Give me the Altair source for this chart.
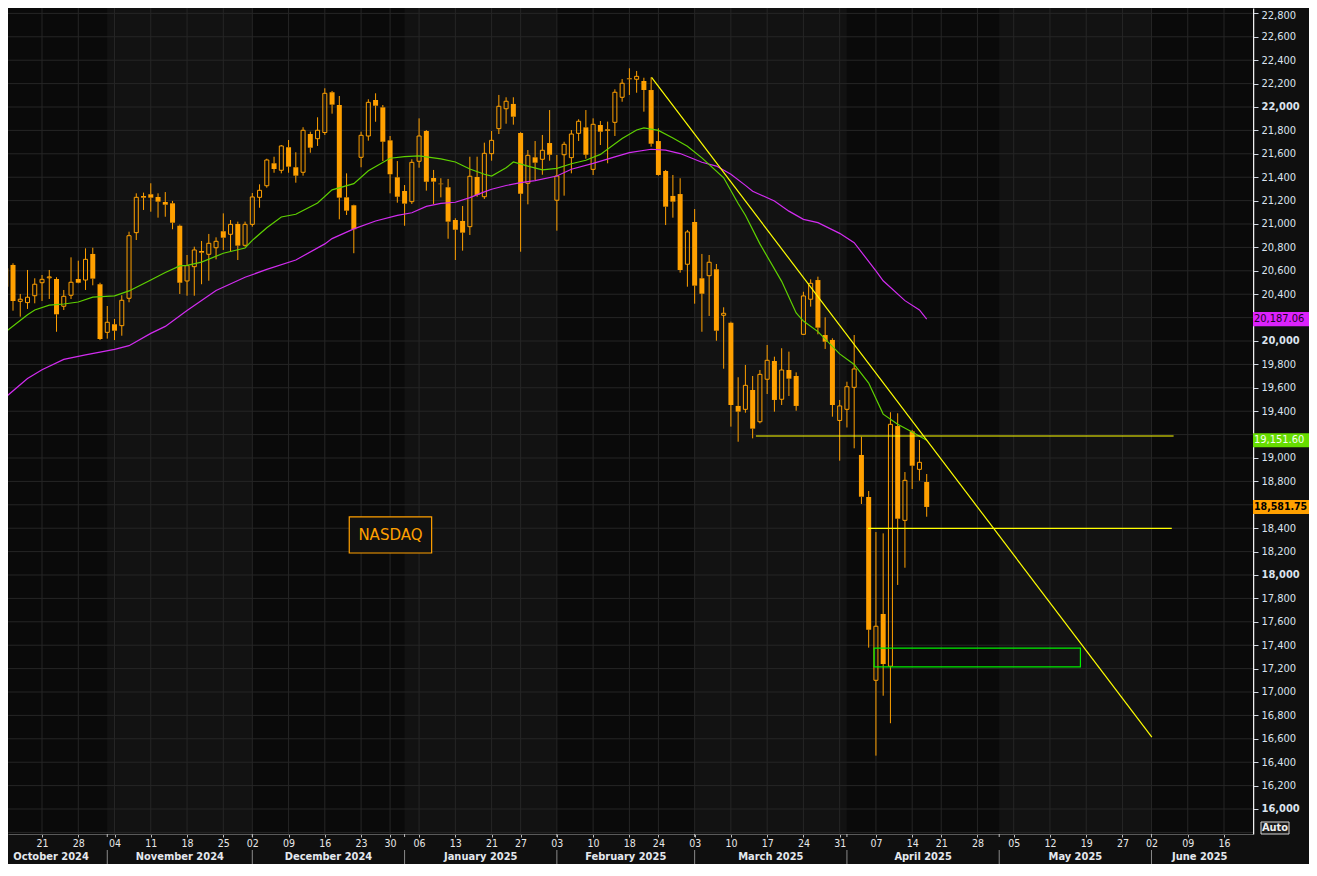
import json
import altair as alt
import numpy as np
import pandas as pd

# ---------------- calendar (trading days, futures) ----------------
HOLIDAYS = ["2024-11-28", "2024-12-25", "2025-01-01", "2025-01-20", "2025-02-17",
            "2025-04-18", "2025-05-26", "2025-06-19", "2025-07-04"]
CAL = pd.bdate_range("2024-09-30", "2025-07-15", freq="C", holidays=HOLIDAYS)
BASE = int(CAL.get_loc(pd.Timestamp("2024-10-14")))
DAYS_ALL = np.arange(len(CAL)) - BASE


def day_of(s):
    return int(CAL.get_loc(pd.Timestamp(s))) - BASE


# ---------------- daily OHLC from 2024-10-14 ----------------
OPEN = [20464, 20650, 20339, 20328, 20387, 20498, 20540, 20530, 20297, 20391,
        20530, 20521, 20744, 20485, 20074, 20143, 20131, 20365, 20926, 21239,
        21254, 21231, 21188, 21177, 20985, 20513, 20635, 20769, 20741, 20797,
        20938, 20912, 21000, 20818, 20997, 21228, 21327, 21519, 21459, 21656,
        21485, 21442, 21769, 21729, 21782, 22126, 22017, 21228, 21160, 21570,
        21752, 22060, 21997, 21715, 21399, 21282, 21191, 21536, 21795, 21393,
        21345, 21314, 21034, 21026, 20977, 21402, 21233, 21601, 21815, 21985,
        22026, 21778, 21348, 21570, 21553, 21692, 21203, 21592, 21567, 21775,
        21826, 21467, 21846, 21809, 21869, 22083, 22245, 22237, 22222, 22145,
        21709, 21453, 21240, 21256, 20656, 21017, 20536, 20558, 20613, 20220,
        20156, 19445, 19416, 19581, 19310, 19673, 19829, 19502, 19752, 19701,
        20057, 20357, 20521, 20051, 20009, 19321, 19416, 19604, 19026, 18667,
        17100, 17667, 17220, 19273, 18467, 19228, 18903, 18795]
HIGH = [20686, 20664, 20402, 20607, 20536, 20564, 20607, 20545, 20436, 20715,
        20686, 20792, 20797, 20498, 20299, 20188, 20391, 20934, 21262, 21268,
        21348, 21262, 21273, 21197, 20995, 20735, 20806, 20855, 20915, 20886,
        21091, 21034, 21020, 21020, 21265, 21339, 21558, 21575, 21675, 21718,
        21613, 21827, 21789, 21912, 22160, 22137, 22094, 21433, 21165, 21789,
        22066, 22117, 22017, 21752, 21538, 21333, 21553, 21903, 21803, 21462,
        21391, 21385, 21049, 21154, 21575, 21575, 21695, 21795, 22103, 22083,
        22083, 21785, 21632, 21709, 21761, 21974, 21590, 21703, 21803, 21895,
        21974, 21903, 21880, 21875, 22151, 22239, 22331, 22308, 22250, 22254,
        21818, 21462, 21419, 21391, 20949, 21128, 20744, 20735, 20658, 20288,
        20165, 19690, 19795, 19701, 19752, 19966, 19866, 19938, 19909, 19732,
        20421, 20527, 20550, 20203, 20023, 19496, 19652, 20051, 19182, 18718,
        18367, 18356, 19391, 19382, 18880, 19240, 19154, 18863]
LOW = [20393, 20259, 20208, 20274, 20322, 20342, 20359, 20079, 20265, 20359,
       20493, 20436, 20476, 20008, 20020, 20008, 20045, 20331, 20863, 21120,
       21105, 21054, 21062, 20955, 20402, 20387, 20387, 20485, 20515, 20698,
       20778, 20763, 20692, 20806, 20977, 21139, 21310, 21438, 21433, 21438,
       21353, 21413, 21609, 21667, 21761, 21943, 21040, 21077, 20750, 21485,
       21712, 21874, 21538, 21262, 21182, 20985, 21171, 21481, 21285, 21171,
       21228, 20874, 20692, 20772, 20906, 21233, 21214, 21541, 21769, 21857,
       21849, 20763, 21168, 21376, 21421, 21541, 20943, 21242, 21433, 21709,
       21558, 21419, 21675, 21519, 21752, 22045, 22103, 22122, 21960, 21661,
       21413, 20991, 21054, 20584, 20464, 20319, 20079, 20214, 20002, 19763,
       19268, 19139, 19387, 19168, 19296, 19547, 19396, 19453, 19530, 19404,
       20051, 20294, 20057, 19932, 19353, 18977, 19261, 19083, 18607, 17379,
       16456, 16968, 16733, 17915, 18062, 18735, 18806, 18498]
CLOSE = [20621, 20342, 20357, 20374, 20485, 20527, 20548, 20228, 20382, 20502,
         20498, 20698, 20533, 20017, 20160, 20088, 20348, 20900, 21228, 21225,
         21225, 21191, 21165, 21011, 20498, 20644, 20778, 20755, 20835, 20852,
         20883, 20997, 20815, 20997, 21231, 21288, 21547, 21470, 21667, 21490,
         21413, 21801, 21652, 21801, 22117, 22020, 21225, 21114, 20955, 21758,
         22040, 22011, 21703, 21425, 21233, 21174, 21527, 21752, 21361, 21362,
         21340, 21020, 20951, 20926, 21408, 21248, 21604, 21715, 22006, 22049,
         21917, 21259, 21587, 21524, 21630, 21592, 21410, 21681, 21769, 21878,
         21592, 21852, 21789, 21797, 22126, 22203, 22237, 22262, 22145, 21686,
         21419, 21148, 21191, 20607, 20932, 20473, 20404, 20673, 20088, 20237,
         19453, 19396, 19621, 19251, 19715, 19835, 19496, 19752, 19678, 19445,
         20385, 20493, 20114, 19994, 19453, 19445, 19609, 19761, 18669, 17533,
         17562, 17239, 19288, 18481, 18809, 18934, 18963, 18581.75]

# ---------------- moving averages ----------------
MA50_DATES = ["2024-10-14", "2024-10-17", "2024-10-21", "2024-10-24", "2024-10-29",
              "2024-11-04", "2024-11-06", "2024-11-11", "2024-11-13", "2024-11-18",
              "2024-11-22", "2024-11-29", "2024-12-04", "2024-12-10", "2024-12-16",
              "2024-12-17", "2024-12-20", "2024-12-26", "2024-12-31", "2025-01-03",
              "2025-01-07", "2025-01-09", "2025-01-13", "2025-01-15", "2025-01-17",
              "2025-01-21", "2025-01-23", "2025-01-27", "2025-01-29", "2025-02-03",
              "2025-02-05", "2025-02-10", "2025-02-13", "2025-02-18", "2025-02-21",
              "2025-02-25", "2025-02-27", "2025-03-04", "2025-03-06", "2025-03-10",
              "2025-03-12", "2025-03-13", "2025-03-18", "2025-03-20", "2025-03-24",
              "2025-03-26", "2025-03-31", "2025-04-02", "2025-04-07", "2025-04-08",
              "2025-04-11", "2025-04-15", "2025-04-16"]
MA50_VALUES = [19521, 19680, 19755, 19843, 19882, 19929, 19960, 20065, 20125, 20260,
               20432, 20545, 20612, 20692, 20830, 20875, 20958, 21026, 21074, 21096,
               21150, 21176, 21186, 21225, 21275, 21297, 21329, 21353, 21371, 21410,
               21468, 21518, 21574, 21610, 21639, 21631, 21602, 21528, 21495, 21425,
               21330, 21280, 21196, 21110, 21040, 21012, 20920, 20840, 20600, 20515,
               20345, 20265, 20187.06]
MA20_DATES = ["2024-10-14", "2024-10-17", "2024-10-18", "2024-10-22", "2024-10-24",
              "2024-10-28", "2024-10-30", "2024-11-04", "2024-11-06", "2024-11-11",
              "2024-11-13", "2024-11-15", "2024-11-18", "2024-11-20", "2024-11-25",
              "2024-11-29", "2024-12-02", "2024-12-04", "2024-12-06", "2024-12-10",
              "2024-12-13", "2024-12-17", "2024-12-20", "2024-12-24", "2024-12-30",
              "2025-01-02", "2025-01-06", "2025-01-09", "2025-01-13", "2025-01-15",
              "2025-01-17", "2025-01-21", "2025-01-23", "2025-01-24", "2025-01-28",
              "2025-01-30", "2025-02-03", "2025-02-05", "2025-02-07", "2025-02-11",
              "2025-02-14", "2025-02-19", "2025-02-20", "2025-02-24", "2025-02-26",
              "2025-02-28", "2025-03-04", "2025-03-07", "2025-03-11", "2025-03-12",
              "2025-03-14", "2025-03-19", "2025-03-21", "2025-03-24", "2025-03-26",
              "2025-03-31", "2025-04-02", "2025-04-04", "2025-04-08", "2025-04-10",
              "2025-04-14", "2025-04-16"]
MA20_VALUES = [20079, 20225, 20265, 20307, 20316, 20333, 20375, 20386, 20428, 20522,
               20586, 20642, 20646, 20674, 20750, 20795, 20860, 20968, 21060, 21083,
               21180, 21292, 21345, 21455, 21562, 21575, 21583, 21556, 21530, 21470,
               21425, 21410, 21480, 21530, 21495, 21462, 21476, 21515, 21545, 21595,
               21730, 21803, 21822, 21800, 21735, 21665, 21565, 21395, 21175, 21075,
               20830, 20510, 20240, 20170, 20080, 19890, 19800, 19640, 19375, 19288,
               19222, 19151.60]

# ---------------- drawn annotations (trading-day position, price) ----------------
LINE_X1 = [89.06, 103.45, 118.9]
LINE_Y1 = [22254, 19188, 18399]
LINE_X2 = [158.05, 161.05, 160.8]
LINE_Y2 = [16615, 19188, 18399]
GBOX = {"x1": [119.75], "x2": [148.2], "y1": [17215], "y2": [17375]}
NAS_BOX = {"x1": [47.37], "x2": [58.73], "y1": [18188], "y2": [18496]}
NAS_TEXT = {"x": [53.05], "y": [18342], "t": ["NASDAQ"]}

# right-hand last-value tags
TAG_VALUES = [20187.06, 19151.60, 18581.75]
TAG_TEXT = ["20,187.06", "19,151.60", "18,581.75"]
TAG_FILL = ["#dc22fc", "#66dd00", "#ffa000"]
TAG_INK = ["#1a001f", "#f4fff0", "#000000"]
TAG_WEIGHT = ["normal", "normal", "bold"]

GRID_PRICES = list(range(15800, 22801, 200))
PRICE_TICKS = [p for p in range(16000, 22801, 200)
               if all(abs(p - v) > 60 for v in TAG_VALUES)]

# ---------------- styling / layout (fits the 1301 x 860 page area) ----------------
W, H = 1245, 826
RIGHT, BOTTOM = 56, 30
XDOM = [0.9986, 171.31]
YDOM = [15786.3, 22846.1]
BG = "#0f0f0f"
ORANGE = "#ffa000"
FONT = "DejaVu Sans Condensed, DejaVu Sans"
xs = alt.Scale(domain=XDOM, nice=False, zero=False)
ys = alt.Scale(domain=YDOM, nice=False, zero=False)

# ---------------- frames ----------------
N = len(OPEN)
candles = pd.DataFrame({
    "date": [d.strftime("%Y-%m-%d") for d in CAL[BASE:BASE + N]],
    "day": list(range(N)), "open": OPEN, "high": HIGH, "low": LOW, "close": CLOSE})
candles["top"] = candles[["open", "close"]].max(axis=1)
candles["bot"] = candles[["open", "close"]].min(axis=1)

ma50 = pd.DataFrame({"day": [day_of(d) for d in MA50_DATES], "value": MA50_VALUES})
ma20 = pd.DataFrame({"day": [day_of(d) for d in MA20_DATES], "value": MA20_VALUES})

iso = CAL.isocalendar()
wk = (iso["year"].astype(str) + "-" + iso["week"].astype(str)).values
WEEK_TICKS = [int(DAYS_ALL[i]) for i in range(len(CAL))
              if (i == 0 or wk[i] != wk[i - 1]) and XDOM[0] <= DAYS_ALL[i] <= XDOM[1]]
DAY_LABELS = [f"{d.day:02d}" for d in CAL]
label_expr = f"{json.dumps(DAY_LABELS)}[datum.value + {BASE}]"

mkey = CAL.strftime("%Y-%m")
m_first, m_name = [], []
for i in range(len(CAL)):
    if i == 0 or mkey[i] != mkey[i - 1]:
        m_first.append(int(DAYS_ALL[i]))
        m_name.append(CAL[i].strftime("%B %Y"))
bands, mlabels, mleft, mseps = [], [], [], []
for j in range(len(m_first)):
    start = m_first[j]
    end = m_first[j + 1] if j + 1 < len(m_first) else XDOM[1] + 10
    bands.append({"x1": start, "x2": end, "shade": "a" if j % 2 == 1 else "b"})
    if end <= XDOM[0] or start >= XDOM[1]:
        continue
    if start < XDOM[0]:
        mleft.append({"pos": XDOM[0] + 0.05, "label": m_name[j]})
    else:
        mseps.append({"pos": start})
        mlabels.append({"pos": (start + min(end, XDOM[1])) / 2, "label": m_name[j]})
bands = pd.DataFrame(bands)

# ---------------- axes (identical on every layer so they merge) ----------------
x_axis = alt.Axis(values=WEEK_TICKS, labelExpr=label_expr, orient="bottom", grid=False,
                  domain=True, domainColor="#5a5a5a", domainWidth=1,
                  ticks=True, tickSize=3, tickColor="#bdbdbd",
                  labelColor="#e8e8e8", labelFont=FONT, labelFontSize=10.5,
                  labelPadding=1, labelFlush=False, labelOverlap=False, title=None)
y_axis = alt.Axis(values=PRICE_TICKS, format=",.0f", orient="right", grid=False,
                  domain=True, domainColor="#f0f0f0", domainWidth=1.5,
                  ticks=True, tickSize=5, tickColor="#cfd6e0",
                  labelColor="#dbe3ee", labelFont=FONT, labelFontSize=11,
                  labelFontWeight={"condition": {"test": "datum.value % 2000 === 0", "value": "bold"},
                                   "value": "normal"},
                  labelOffset={"condition": {"test": "datum.value >= 22800", "value": 2},
                               "value": 0},
                  labelPadding=3, labelFlush=False, labelOverlap=False, title=None)


def XQ(f):
    return alt.X(f, type="quantitative", scale=xs, axis=x_axis, title=None)


def YQ(f):
    return alt.Y(f, type="quantitative", scale=ys, axis=y_axis, title=None)


# ---------------- layers ----------------
band_layer = alt.Chart(bands).mark_rect(clip=True).encode(
    x=XQ("x1"), x2="x2:Q",
    y=alt.value(0), y2=alt.value(H),
    fill=alt.Fill("shade:N", scale=alt.Scale(domain=["a", "b"], range=["#0a0a0a", "#121212"]), legend=None))

vgrid = alt.Chart(pd.DataFrame({"day": WEEK_TICKS})).mark_rule(
    color="#262626", strokeWidth=1, clip=True).encode(x=XQ("day"))
hgrid = alt.Chart(pd.DataFrame({"price": GRID_PRICES})).mark_rule(
    color="#262626", strokeWidth=1, clip=True).encode(y=YQ("price"))

cbase = alt.Chart(candles)
wick_hi = cbase.mark_rule(color=ORANGE, strokeWidth=1, clip=True).encode(
    x=XQ("day"), y=YQ("high"), y2="top:Q")
wick_lo = cbase.mark_rule(color=ORANGE, strokeWidth=1, clip=True).encode(
    x=XQ("day"), y=YQ("bot"), y2="low:Q")
body_dn = cbase.transform_filter("datum.close < datum.open").mark_bar(
    size=5, color=ORANGE, clip=True).encode(x=XQ("day"), y=YQ("open"), y2="close:Q")
body_up = cbase.transform_filter("datum.close >= datum.open").mark_bar(
    size=4, fill=BG, fillOpacity=0, stroke=ORANGE, strokeWidth=1, clip=True).encode(
    x=XQ("day"), y=YQ("open"), y2="close:Q")

line50 = alt.Chart(ma50).mark_line(color="#d22cf0", strokeWidth=1.2, clip=True).encode(
    x=XQ("day"), y=YQ("value"))
line20 = alt.Chart(ma20).mark_line(color="#5fd100", strokeWidth=1.2, clip=True).encode(
    x=XQ("day"), y=YQ("value"))

ylines = alt.Chart(pd.DataFrame({"x1": LINE_X1, "y1": LINE_Y1, "x2": LINE_X2, "y2": LINE_Y2})).mark_rule(
    color="#ffff00", strokeWidth=1.2, clip=True).encode(
    x=XQ("x1"), x2="x2:Q", y=YQ("y1"), y2="y2:Q")
gbox = alt.Chart(pd.DataFrame(GBOX)).mark_rect(
    fillOpacity=0, stroke="#00ee00", strokeWidth=1.2, clip=True).encode(
    x=XQ("x1"), x2="x2:Q", y=YQ("y1"), y2="y2:Q")
nbox = alt.Chart(pd.DataFrame(NAS_BOX)).mark_rect(
    fill="#111111", stroke=ORANGE, strokeWidth=1.2, clip=True).encode(
    x=XQ("x1"), x2="x2:Q", y=YQ("y1"), y2="y2:Q")
ntext = alt.Chart(pd.DataFrame(NAS_TEXT)).mark_text(
    color=ORANGE, font="DejaVu Sans", fontSize=15, align="center", baseline="middle").encode(
    x=XQ("x"), y=YQ("y"), text="t:N")

tags = pd.DataFrame({"v": TAG_VALUES, "t": TAG_TEXT, "fill": TAG_FILL, "ink": TAG_INK, "w": TAG_WEIGHT})
tag_rect = alt.Chart(tags).transform_calculate(
    top="datum.v + 60", bot="datum.v - 60").mark_rect().encode(
    x=alt.value(W), x2=alt.value(W + RIGHT),
    y=YQ("top"), y2="bot:Q",
    fill=alt.Fill("fill:N", scale=None))
tag_text_n = alt.Chart(tags).transform_filter("datum.w == 'normal'").mark_text(
    align="left", baseline="middle", font=FONT, fontSize=11).encode(
    x=alt.value(W + 1), y=YQ("v"), text="t:N", color=alt.Color("ink:N", scale=None))
tag_text_b = alt.Chart(tags).transform_filter("datum.w == 'bold'").mark_text(
    align="left", baseline="middle", font=FONT, fontSize=10.5, fontWeight="bold").encode(
    x=alt.value(W + 1), y=YQ("v"), text="t:N", color=alt.Color("ink:N", scale=None))

mon_c = alt.Chart(pd.DataFrame(mlabels)).mark_text(
    color="#e4e8ee", font=FONT, fontSize=11, fontWeight="bold", align="center", baseline="middle").encode(
    x=XQ("pos"), y=alt.value(H + 23), text="label:N")
mon_l = alt.Chart(pd.DataFrame(mleft)).mark_text(
    color="#e4e8ee", font=FONT, fontSize=11, fontWeight="bold", align="left", baseline="middle").encode(
    x=XQ("pos"), y=alt.value(H + 23), text="label:N")
msep = alt.Chart(pd.DataFrame(mseps)).mark_rule(color="#8a8a8a", strokeWidth=1).encode(
    x=XQ("pos"), y=alt.value(H + 16), y2=alt.value(H + BOTTOM))
mtick = alt.Chart(pd.DataFrame(mseps)).mark_rule(color="#bdbdbd", strokeWidth=1).encode(
    x=XQ("pos"), y=alt.value(H), y2=alt.value(H + 3))

auto_df = pd.DataFrame({"t": ["Auto"]})
auto_box = alt.Chart(auto_df).mark_rect(fill="#1b1b1b", stroke="#d8d8d8", strokeWidth=1).encode(
    x=alt.value(W + 8), x2=alt.value(W + 36), y=alt.value(H - 12), y2=alt.value(H))
auto_txt = alt.Chart(auto_df).mark_text(
    color="#eeeeee", font=FONT, fontSize=11, fontWeight="bold", align="center", baseline="middle").encode(
    x=alt.value(W + 22), y=alt.value(H - 6), text="t:N")

chart = alt.layer(
    band_layer, vgrid, hgrid,
    wick_hi, wick_lo, body_dn, body_up,
    line50, line20,
    ylines, gbox, nbox, ntext,
    tag_rect, tag_text_n, tag_text_b,
    mon_c, mon_l, msep, mtick, auto_box, auto_txt,
).properties(
    width=W, height=H, background=BG,
    padding={"left": 0, "top": 0, "right": RIGHT, "bottom": BOTTOM},
    autosize=alt.AutoSizeParams(type="none"),
).configure_view(strokeWidth=0)

chart.save("out.html", embed_options={"renderer": "svg", "actions": False})
